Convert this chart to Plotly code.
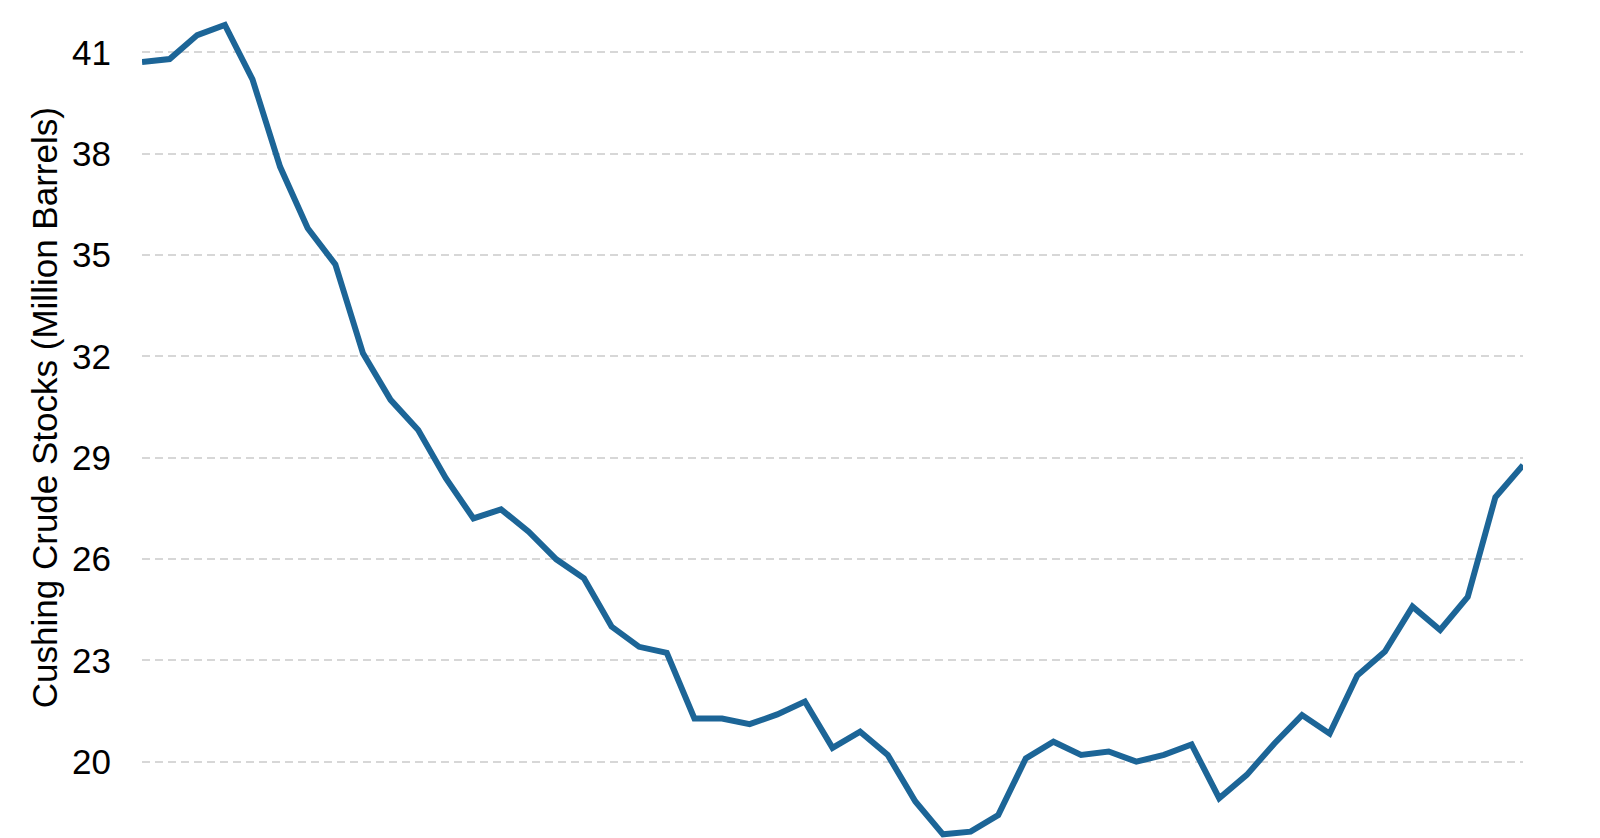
import plotly.graph_objects as go

# weekly Cushing crude stocks, million barrels
week_index = list(range(51))
cushing_stocks = [
    40.71, 40.80, 41.51, 41.81, 40.20, 37.61, 35.79, 34.72, 32.09, 30.71,
    29.82, 28.39, 27.20, 27.47, 26.81, 25.99, 25.43, 24.00, 23.40, 23.22,
    21.28, 21.28, 21.11, 21.40, 21.78, 20.41, 20.89, 20.20, 18.82, 17.85,
    17.93, 18.42, 20.10, 20.59, 20.20, 20.30, 20.00, 20.20, 20.51, 18.92,
    19.61, 20.54, 21.38, 20.83, 22.55, 23.26, 24.59, 23.90, 24.88, 27.83,
    28.78,
]
y_ticks = [20, 23, 26, 29, 32, 35, 38, 41]

font_family = "Arial, Liberation Sans, sans-serif"

fig = go.Figure()

fig.add_trace(go.Scatter(
    x=week_index,
    y=cushing_stocks,
    mode='lines',
    name='Cushing',
    line=dict(color='#1c6597', width=6),
))

fig.update_layout(
    width=1600,
    height=838,
    paper_bgcolor='white',
    plot_bgcolor='white',
    showlegend=False,
    margin=dict(l=142, r=77, t=0, b=0),
    font=dict(family=font_family, size=35, color='#000000'),
    xaxis=dict(
        range=[0, 50],
        showgrid=False,
        showticklabels=False,
        zeroline=False,
        showline=False,
    ),
    yaxis=dict(
        range=[17.741, 42.548],
        tickvals=y_ticks,
        ticktext=[str(v) for v in y_ticks],
        tickfont=dict(family=font_family, size=35, color='#000000'),
        ticks='',
        ticklabelstandoff=30,
        showgrid=True,
        gridcolor='#d7d7d7',
        gridwidth=2,
        griddash='8px,5px',
        zeroline=False,
        showline=False,
    ),
)

# axis title placed by hand so it sits where the original does
fig.add_annotation(
    text='Cushing Crude Stocks (Million Barrels)',
    textangle=-90,
    xref='paper', yref='paper',
    x=-0.0705, y=0.5137,
    xanchor='center', yanchor='middle',
    showarrow=False,
    font=dict(family=font_family, size=35, color='#000000'),
)

# page body has a default 8px margin; drop it so the figure sits at 0,0
fig.write_html(
    "out.html",
    config={'displayModeBar': False},
    post_script="document.body.style.margin='0';",
)
